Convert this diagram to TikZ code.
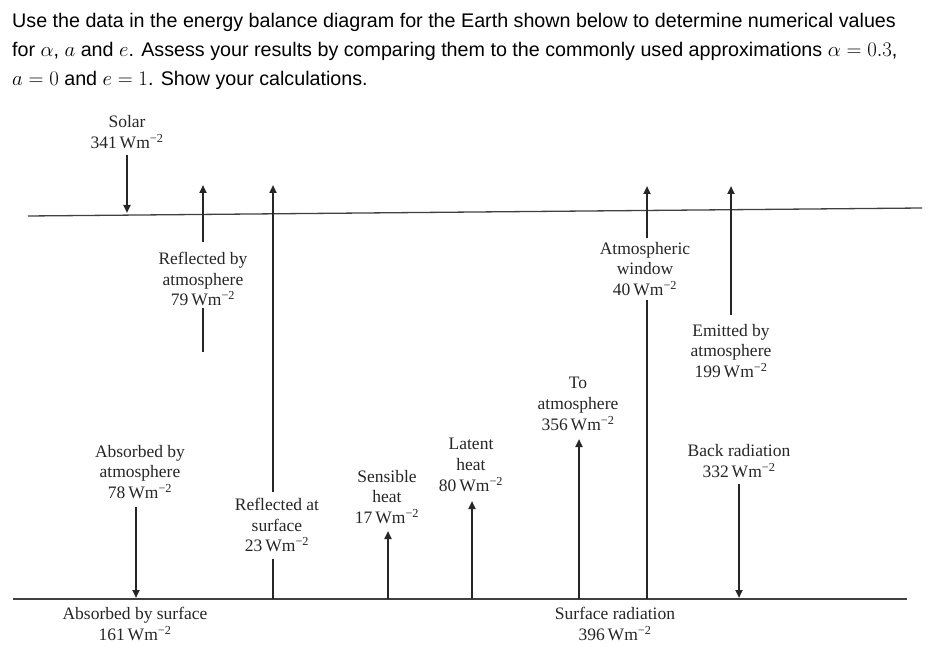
\documentclass[tikz,border=0pt]{standalone}
\usepackage{fontspec}
\setmainfont{Liberation Serif}
\newfontfamily\hdrfont{Liberation Sans}
\usetikzlibrary{arrows.meta}
\newcommand{\wm}{\,Wm\textsuperscript{\char"2212 2}}
\newcommand{\hm}[1]{{\fontsize{22}{29}\selectfont$#1$}}
\begin{document}
\begin{tikzpicture}[x=1pt,y=-1pt,
  lbl/.style={align=center, font=\fontsize{17.5}{20.7}\selectfont, inner sep=0pt, text=black!85},
  hdr/.style={anchor=base west, font=\hdrfont\fontsize{19.7}{29}\selectfont, inner sep=0pt},
  flux/.style={line width=2.2pt, draw=black!85, -{Triangle[length=8pt,width=7pt]}},
  seg/.style={line width=2.2pt, draw=black!85},
  level/.style={line width=1.3pt, draw=black!75}]
\useasboundingbox (0,0) rectangle (940,660);
% header
\node[hdr] (h1) at (12,28) {Use the data in the energy balance diagram for the Earth shown below to determine numerical values};
\node[hdr] (h2) at (12,57) {for \hm{\alpha}, \hm{a} and \hm{e}. Assess your results by comparing them to the commonly used approximations \hm{\alpha = 0.3},};
\node[hdr] (h3) at (12,86) {\hm{a = 0} and \hm{e = 1}. Show your calculations.};
% levels
\coordinate (toaL) at (28,216);
\coordinate (toaR) at (922,208);
\coordinate (srfL) at (13,599);
\coordinate (srfR) at (907,599);
\draw[level] (toaL) -- (toaR);
\draw[level] (srfL) -- (srfR);
% labels
\node[lbl] (solar) at (127,132) {Solar\\341\wm};
\node[lbl] (ratm) at (203,279) {Reflected by\\atmosphere\\79\wm};
\node[lbl] (rsrf) at (277,525) {Reflected at\\surface\\23\wm};
\node[lbl] (aatm) at (140,472) {Absorbed by\\atmosphere\\78\wm};
\node[lbl] (asrf) at (135,624) {Absorbed by surface\\161\wm};
\node[lbl] (sens) at (387,497) {Sensible\\heat\\17\wm};
\node[lbl] (lat) at (471,465) {Latent\\heat\\80\wm};
\node[lbl] (toatm) at (578,404) {To\\atmosphere\\356\wm};
\node[lbl] (win) at (645,269) {Atmospheric\\window\\40\wm};
\node[lbl] (emit) at (731,351) {Emitted by\\atmosphere\\199\wm};
\node[lbl] (back) at (739,461) {Back radiation\\332\wm};
\node[lbl] (srad) at (615,624) {Surface radiation\\396\wm};
% arrow end points
\coordinate (solA) at (127,155);  \coordinate (solB) at (127,213);
\coordinate (raA) at (203,242);   \coordinate (raB) at (203,185);
\coordinate (raC) at (203,308);   \coordinate (raD) at (203,352);
\coordinate (rsA) at (273,492);   \coordinate (rsB) at (273,185);
\coordinate (rsC) at (273,559);   \coordinate (rsD) at (273,599);
\coordinate (aaA) at (136,507);   \coordinate (aaB) at (136,598);
\coordinate (shA) at (388,599);   \coordinate (shB) at (388,531);
\coordinate (lhA) at (472,599);   \coordinate (lhB) at (472,501);
\coordinate (taA) at (579,599);   \coordinate (taB) at (579,439);
\coordinate (wA) at (647,238);    \coordinate (wB) at (647,186);
\coordinate (wC) at (647,300);    \coordinate (wD) at (647,599);
\coordinate (emA) at (731,315);   \coordinate (emB) at (731,186);
\coordinate (brA) at (739,484);   \coordinate (brB) at (739,598);
% arrows
\draw[flux] (solA) -- (solB);
\draw[flux] (raA) -- (raB);
\draw[seg] (raC) -- (raD);
\draw[flux] (rsA) -- (rsB);
\draw[seg] (rsC) -- (rsD);
\draw[flux] (aaA) -- (aaB);
\draw[flux] (shA) -- (shB);
\draw[flux] (lhA) -- (lhB);
\draw[flux] (taA) -- (taB);
\draw[flux] (wA) -- (wB);
\draw[seg] (wC) -- (wD);
\draw[flux] (emA) -- (emB);
\draw[flux] (brA) -- (brB);
\end{tikzpicture}
\end{document}
